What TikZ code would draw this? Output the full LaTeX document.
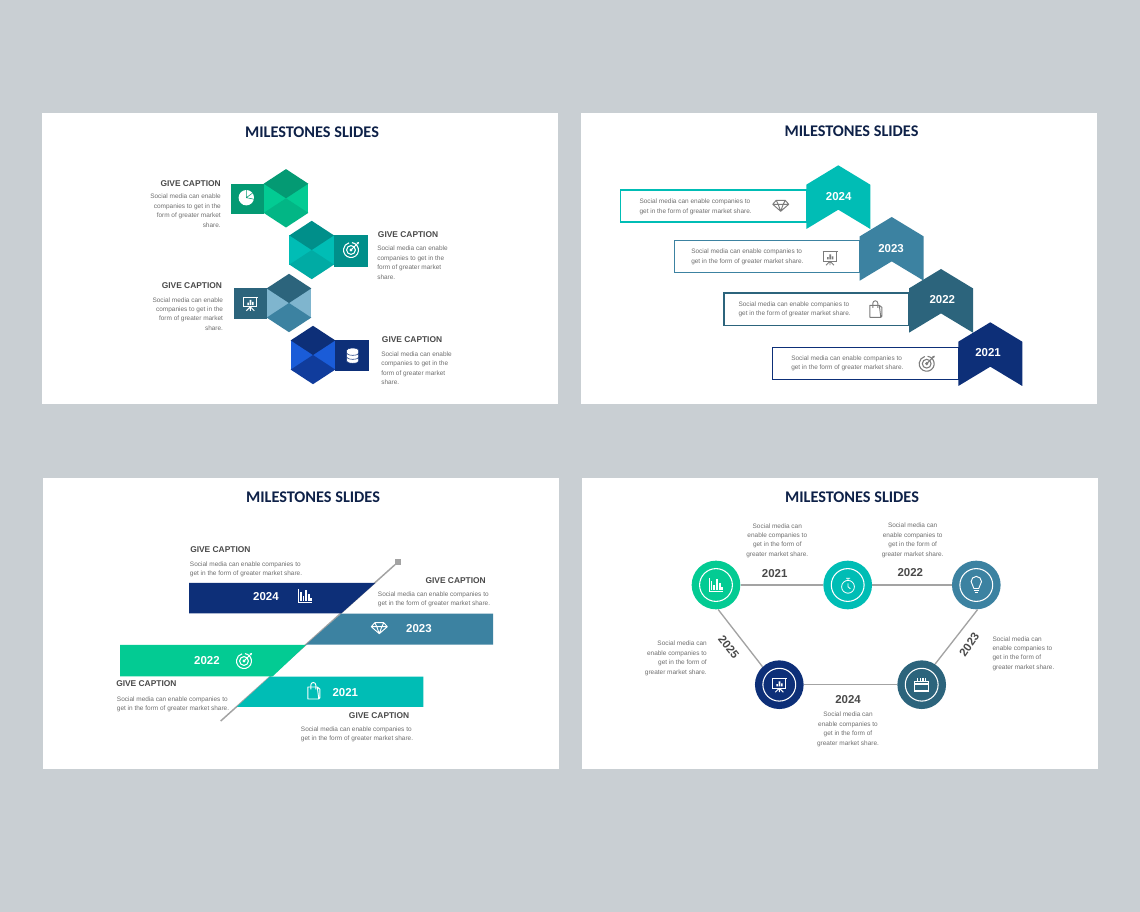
\documentclass[tikz,border=0pt]{standalone}
\usepackage{fontspec}
\setmainfont{Liberation Sans}
\newfontfamily\titlefont{Carlito}
\definecolor{pagegray}{HTML}{C9CFD3}
\definecolor{titleblue}{HTML}{0E2148}
\definecolor{capgray}{HTML}{4A4A4A}
\definecolor{txtgray}{HTML}{707070}
\definecolor{linegray}{HTML}{A3A3A3}
\definecolor{icongray}{HTML}{7C7C7C}
\definecolor{mintdark}{HTML}{049A73}
\definecolor{mint}{HTML}{03CB93}
\definecolor{mintmid}{HTML}{02B685}
\definecolor{tealdark}{HTML}{008F8A}
\definecolor{teal}{HTML}{00BDB5}
\definecolor{tealmid}{HTML}{00ABA4}
\definecolor{steeldark}{HTML}{2C647C}
\definecolor{steellight}{HTML}{7FB5CE}
\definecolor{steel}{HTML}{3C82A1}
\definecolor{navy}{HTML}{0D2F78}
\definecolor{royal}{HTML}{1A5CD8}
\definecolor{royalmid}{HTML}{103C9C}
\tikzset{
  slidetitle/.style={font=\titlefont\bfseries\fontsize{12.2}{14}\selectfont,text=titleblue,inner sep=0pt},
  captxt/.style={font=\bfseries\fontsize{6.3}{8}\selectfont,text=capgray,inner sep=0pt},
  bodytxt/.style={font=\fontsize{4.85}{7.05}\selectfont,text=txtgray,inner sep=0pt},
  yeartxt/.style={font=\bfseries\fontsize{8.6}{10}\selectfont,inner sep=0pt},
  yearring/.style={circle,minimum size=36.5pt,inner sep=0pt},
  greenline/.style={draw=linegray,line width=1pt},
  iconpie/.pic={
    \fill (0,0) circle (7.7);
    \draw[mintdark,line width=0.4pt] (0,-7.7) -- (0,0) -- (7.7,1.5) (0,0) -- (6.2,-4.6);
  },
  icontarget/.pic={
    \draw[line width=0.8pt] (0.9,-7.4) arc (-83:255:7.5);
    \draw[line width=0.8pt] (0,0) circle (4.4);
    \fill (0,0) circle (1.7);
    \draw[line width=0.7pt] (0,0) -- (7.6,-7.6);
    \fill (8,-8) -- (5.5,-7.3) -- (7.3,-5.5) -- cycle;
  },
  iconboard/.pic={
    \draw[line width=0.7pt] (-7.5,-6) -- (7.5,-6) (-6.5,-6) rectangle (6.5,3.5);
    \fill (-3,1.8) rectangle (-1.4,-0.6) (-0.6,1.8) rectangle (1,-3.4) (1.8,1.8) rectangle (3.4,-1.4);
    \draw[line width=0.7pt] (0,3.5) -- (0,7.5) (0,3.5) -- (-4,7.5) (0,3.5) -- (4,7.5);
  },
  icondb/.pic={
    \foreach \j in {4,0,-4}
    {\draw[navy,line width=0.4pt,fill=white] (-6,\j-1.6) -- (-6,\j+1.6) arc (180:0:6 and 2) -- (6,\j-1.6) arc (0:-180:6 and 2) -- cycle;}
  },
  icondiamond/.pic={
    \draw[line width=0.7pt,line join=round] (-4.5,-5) -- (4.5,-5) -- (8,-1) -- (0,6) -- (-8,-1) -- cycle
      (-8,-1) -- (8,-1) (-4.5,-5) -- (-2.5,-1) -- (0,6) -- (2.5,-1) -- (4.5,-5);
  },
  iconbag/.pic={
    \draw[line width=0.7pt,line join=round] (-5.5,-4) -- (4,-4) -- (5.5,8) -- (-5.5,8) -- cycle (4,-4) -- (6.5,-2) -- (6.5,7) -- (5.5,8);
    \draw[line width=0.7pt] (-2.5,-1.5) -- (-2.5,-6) arc (180:360:2.5 and 2.5) -- (2.5,-1.5);
  },
  iconbars/.pic={
    \draw[line width=0.7pt] (-7,-7) -- (-7,6.5) -- (7,6.5);
    \foreach \bx/\bh in {-4.5/9,-1.8/5,0.9/11,3.6/7,6/3}
    {\fill (\bx-0.9,5) rectangle (\bx+0.9,5-\bh);}
  },
  iconwatch/.pic={
    \draw[line width=0.6pt] (0,0.8) circle (6.4);
    \draw[line width=0.6pt] (-2,-7.8) -- (2,-7.8) (0,-7.8) -- (0,-5.6) (0,-2.5) -- (0,0.8) -- (2.4,2.8);
  },
  iconbulb/.pic={
    \draw[line width=0.7pt] (-2.4,3.5) .. controls (-2.4,0.8) and (-5.2,-0.5) .. (-5.2,-3.4) arc (180:360:5.2) .. controls (5.2,-0.5) and (2.4,0.8) .. (2.4,3.5) -- cycle;
    \draw[line width=0.7pt] (-2.4,5.4) -- (2.4,5.4) (-1.6,7.2) -- (1.6,7.2);
  },
  iconcal/.pic={
    \draw[line width=0.8pt] (-6.8,-3.5) rectangle (6.8,6);
    \draw[line width=0.8pt] (-6.8,-1) -- (6.8,-1);
    \foreach \cx in {-4,-1.3,1.3,4}
    {\fill (\cx-0.7,-6.5) rectangle (\cx+0.7,-3);}
  },
}
\begin{document}
\begin{tikzpicture}
        [x=0.75pt,y=-0.75pt]
        \useasboundingbox (0,0) rectangle (1140,912);
        \fill[pagegray] (0,0) rectangle (1140,912);
        \fill[white] (42,113) rectangle (558,404);
        \fill[white] (581,113) rectangle (1097,404);
        \fill[white] (43,478) rectangle (559,769);
        \fill[white] (582,478) rectangle (1098,769);

        \node[slidetitle] (titleA) at (312,132) {MILESTONES SLIDES};
        \node[slidetitle] (titleB) at (851.5,131.5) {MILESTONES SLIDES};
        \node[slidetitle] (titleC) at (313,497) {MILESTONES SLIDES};
        \node[slidetitle] (titleD) at (852,497) {MILESTONES SLIDES};

        \foreach \hx/\hy/\ctop/\cside/\cbot in {286/198.3/mintdark/mint/mintmid,
          311.7/250/tealdark/teal/tealmid,289/303/steeldark/steellight/steel,313/355/navy/royal/royalmid}
        {
          \fill[\cside] (\hx-22.3,\hy-14.6) -- (\hx+22.3,\hy-14.6) -- (\hx+22.3,\hy+14.6) -- (\hx-22.3,\hy+14.6) -- cycle;
          \fill[\ctop] (\hx,\hy-29.2) -- (\hx+22.3,\hy-14.6) -- (\hx,\hy) -- (\hx-22.3,\hy-14.6) -- cycle;
          \fill[\cbot] (\hx,\hy+29.2) -- (\hx+22.3,\hy+14.6) -- (\hx,\hy) -- (\hx-22.3,\hy+14.6) -- cycle;
        }
        \fill[mintdark] (230.7,183.7) rectangle (264.3,214.3);
        \fill[tealdark] (334.3,235.3) rectangle (368,266.7);
        \fill[steeldark] (233.7,287.7) rectangle (267.3,318.7);
        \fill[navy] (335.3,340) rectangle (369,371.3);
        \pic[white] at (246.3,197.7) {iconpie};
        \pic[white] at (351,250) {icontarget};
        \pic[white] at (250.3,303.3) {iconboard};
        \pic[white] at (352.7,355.7) {icondb};

        \node[captxt,anchor=east] (capA) at (221,183.3) {GIVE CAPTION};
        \node[captxt,anchor=west] (capB) at (377.7,234.7) {GIVE CAPTION};
        \node[captxt,anchor=east] (capC) at (222.3,286) {GIVE CAPTION};
        \node[captxt,anchor=west] (capD) at (381.7,340) {GIVE CAPTION};
        \node[bodytxt,anchor=east,align=right] (txtA) at (221,210.6) {Social media can enable\\companies to get in the\\form of greater market\\share.};
        \node[bodytxt,anchor=west,align=left] (txtB) at (377,262.7) {Social media can enable\\companies to get in the\\form of greater market\\share.};
        \node[bodytxt,anchor=east,align=right] (txtC) at (223.3,313.8) {Social media can enable\\companies to get in the\\form of greater market\\share.};
        \node[bodytxt,anchor=west,align=left] (txtD) at (381,368.3) {Social media can enable\\companies to get in the\\form of greater market\\share.};

        \foreach \bx/\by/\fx/\fy/\ftop/\fcol/\yrx/\yry/\yr/\tx/\ty/\nm in {620.3/190/806.3/222/165.3/teal/838.7/197/2024/639.3/206.8/a,
          674.7/240.7/859.7/272.7/217/steel/891/249/2023/691/256.8/b,
          724/293/909/325.7/269/steeldark/942.3/299.7/2022/738.3/309.5/c,
          772.7/347.3/958.3/379.3/322.3/navy/988/352.3/2021/791/363.6/d}
        {
          \draw[\fcol,line width=1.1pt] (\bx,\by) rectangle (\fx,\fy);
          \fill[\fcol] (\fx+32,\ftop) -- (\fx+64,\ftop+19.4) -- (\fx+64,\ftop+63.7) -- (\fx+32,\ftop+44.4) -- (\fx,\ftop+63.7) -- (\fx,\ftop+19.4) -- cycle;
          \node[yeartxt,text=white] (flag\nm) at (\yrx,\yry) {\yr};
          \node[bodytxt,anchor=west,align=left] (flagtxt\nm) at (\tx,\ty) {Social media can enable companies to\\get in the form of greater market share.};
        }
        \pic[icongray] at (780.7,205.3) {icondiamond};
        \pic[icongray] at (830,257.7) {iconboard};
        \pic[icongray] at (875.3,309.3) {iconbag};
        \pic[icongray] at (926.7,363.7) {icontarget};

        \node[fill=linegray,minimum size=4pt,inner sep=0pt] (linetip) at (398,562) {};
        \coordinate (linefoot) at (220.7,721);
        \draw[linegray,line width=1.1pt] (linefoot) -- (linetip);
        \fill[navy] (189,583) -- (375.3,583) -- (341.3,613.3) -- (189,613.3) -- cycle;
        \fill[steel] (341.3,613.7) -- (493,613.7) -- (493,644.7) -- (306,644.7) -- cycle;
        \fill[mint] (120,645) -- (306,645) -- (272.7,676.3) -- (120,676.3) -- cycle;
        \fill[teal] (270,676.7) -- (423.3,676.7) -- (423.3,707) -- (236.7,707) -- cycle;
        \node[yeartxt,text=white] (barA) at (266,597) {2024};
        \node[yeartxt,text=white] (barB) at (419,629) {2023};
        \node[yeartxt,text=white] (barC) at (207,661) {2022};
        \node[yeartxt,text=white] (barD) at (345.3,692.7) {2021};
        \pic[white] at (305.3,596) {iconbars};
        \pic[white] at (379.3,627.7) {icondiamond};
        \pic[white] at (244,661) {icontarget};
        \pic[white] at (313.3,691) {iconbag};

        \node[captxt,anchor=west] (barcapA) at (190,550) {GIVE CAPTION};
        \node[captxt,anchor=west] (barcapB) at (425.3,580.3) {GIVE CAPTION};
        \node[captxt,anchor=west] (barcapC) at (116,684) {GIVE CAPTION};
        \node[captxt,anchor=west] (barcapD) at (348.7,715.3) {GIVE CAPTION};
        \node[bodytxt,anchor=west,align=left] (bartxtA) at (189.7,569.5) {Social media can enable companies to\\get in the form of greater market share.};
        \node[bodytxt,anchor=west,align=left] (bartxtB) at (377.7,599.6) {Social media can enable companies to\\get in the form of greater market share.};
        \node[bodytxt,anchor=west,align=left] (bartxtC) at (116.7,704.3) {Social media can enable companies to\\get in the form of greater market share.};
        \node[bodytxt,anchor=west,align=left] (bartxtD) at (300.7,734.6) {Social media can enable companies to\\get in the form of greater market share.};

        \node[yearring,fill=mint] (ringA) at (716,585) {};
        \node[yearring,fill=teal] (ringB) at (847.7,585) {};
        \node[yearring,fill=steel] (ringC) at (976.3,585) {};
        \node[yearring,fill=steeldark] (ringD) at (921.7,684.7) {};
        \node[yearring,fill=navy] (ringE) at (779.3,684.7) {};
        \draw[greenline] (ringA) -- (ringB);
        \draw[greenline] (ringB) -- (ringC);
        \draw[greenline] (ringC.-87) -- (ringD.57);
        \draw[greenline] (ringD) -- (ringE);
        \draw[greenline] (ringE.133) -- (ringA.-85);
        \foreach \i in {A,B,C,D,E}
        {\draw[white,line width=0.8pt] (ring\i.center) circle (16.4);}
        \pic[white] at (716,585) {iconbars};
        \pic[white] at (848,586) {iconwatch};
        \pic[white] at (976.3,585) {iconbulb};
        \pic[white] at (921.7,685) {iconcal};
        \pic[white] at (779.3,684.7) {iconboard};

        \node[yeartxt,text=capgray] (yrA) at (774.7,573.3) {2021};
        \node[yeartxt,text=capgray] (yrB) at (910.3,572.7) {2022};
        \node[yeartxt,text=capgray,rotate=55] (yrC) at (969.3,644.7) {2023};
        \node[yeartxt,text=capgray] (yrD) at (848,700) {2024};
        \node[yeartxt,text=capgray,rotate=-52] (yrE) at (728.7,647.3) {2025};
        \node[bodytxt,align=center] (ringtxtA) at (777.3,540.6) {Social media can\\enable companies to\\get in the form of\\greater market share.};
        \node[bodytxt,align=center] (ringtxtB) at (912.7,540.3) {Social media can\\enable companies to\\get in the form of\\greater market share.};
        \node[bodytxt,anchor=west,align=left] (ringtxtC) at (992.3,653.6) {Social media can\\enable companies to\\get in the form of\\greater market share.};
        \node[bodytxt,align=center] (ringtxtD) at (848,729.3) {Social media can\\enable companies to\\get in the form of\\greater market share.};
        \node[bodytxt,anchor=east,align=right] (ringtxtE) at (707,658.3) {Social media can\\enable companies to\\get in the form of\\greater market share.};
      \end{tikzpicture}
\end{document}
